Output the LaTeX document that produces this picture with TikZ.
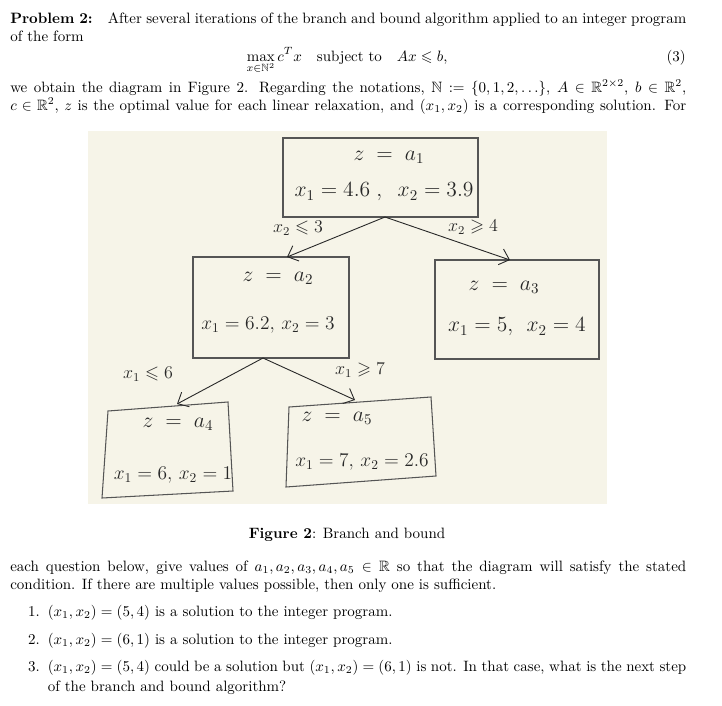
\documentclass[tikz,border=0pt]{standalone}
\usepackage{amsmath,amssymb}
\usetikzlibrary{arrows.meta,fit}
\definecolor{paper}{RGB}{246,244,232}
\definecolor{boxline}{RGB}{85,85,85}
\definecolor{ink}{RGB}{40,40,40}
\newcommand{\smallhand}[1]{\scalebox{0.9}{#1}}
\begin{document}
\begin{tikzpicture}[x=0.6667pt,y=-0.6667pt,
  txtline/.style={anchor=base west, inner sep=0pt, font=\normalsize},
  hand/.style={inner sep=0pt, text=ink, font=\fontsize{14.4}{17}\selectfont},
  handz/.style={inner sep=0pt, text=ink, font=\fontsize{14.4}{17}\selectfont},
  handlabel/.style={inner sep=0pt, text=ink, font=\fontsize{12}{15}\selectfont},
  boxrect/.style={draw=boxline, line width=0.7pt, inner sep=0pt},
  boxpoly/.style={draw=boxline, line width=0.7pt},
  branch/.style={draw=ink, line width=0.6pt, -{Straight Barb[length=6pt,width=11pt]}},
]
\useasboundingbox[fill=white] (0,0) rectangle (722,705);

% ---- header text ----
\node[txtline] (l1) at (10,23) {\makebox[450.7pt][s]{\textbf{Problem 2:}\quad After several iterations of the branch and bound algorithm applied to an integer program}};
\node[txtline] (l2) at (10,41) {of the form};
\node[anchor=base, inner sep=0pt] (eq) at (347,61) {$\displaystyle\max_{x\in\mathbb{N}^2} c^T x \quad \text{subject to} \quad Ax \leqslant b,$};
\node[anchor=base east, inner sep=0pt] (eqn) at (686,61) {(3)};
\node[txtline] (l3) at (10,92) {\makebox[450.7pt][s]{we obtain the diagram in Figure 2. Regarding the notations, $\mathbb{N} := \{0,1,2,\ldots\}$, $A\in\mathbb{R}^{2\times 2}$, $b\in\mathbb{R}^2$,}};
\node[txtline] (l4) at (10,110) {\makebox[450.7pt][s]{$c\in\mathbb{R}^2$, $z$ is the optimal value for each linear relaxation, and $(x_1,x_2)$ is a corresponding solution. For}};

% ---- diagram ----
\fill[paper] (88,131) rectangle (607,504);

\node (n1) [boxrect, fit={(283,138) (478,217)}] {};
\node (n2) [boxrect, fit={(193,257) (349,358)}] {};
\node (n3) [boxrect, fit={(435,260) (599,359)}] {};

\coordinate (p4a) at (108,411);
\coordinate (p4b) at (228,402);
\coordinate (p4c) at (233,491);
\coordinate (p4d) at (102,498);
\draw[boxpoly] (p4a) -- (p4b) -- (p4c) -- (p4d) -- cycle;
\coordinate (p5a) at (289,407);
\coordinate (p5b) at (431,397);
\coordinate (p5c) at (436,476);
\coordinate (p5d) at (286,487);
\draw[boxpoly] (p5a) -- (p5b) -- (p5c) -- (p5d) -- cycle;

\node[handz] (z1) at (389,157) {$z \;=\; a_1$};
\node[hand] (x1) at (384,192) {$x_1 = 4.6\;,\;\; x_2 = 3.9$};
\node[handz] (z2) at (278,278) {$z \;=\; a_2$};
\node[hand] (x2) at (268,325) {\smallhand{$x_1 = 6.2,\, x_2 = 3$}};
\node[handz] (z3) at (504,287) {$z \;=\; a_3$};
\node[hand] (x3) at (517,327) {$x_1 = 5,\;\, x_2 = 4$};
\node[handz] (z4) at (178,424) {$z \;=\; a_4$};
\node[hand] (x4) at (173,475) {\smallhand{$x_1 = 6,\, x_2 = 1$}};
\node[handz] (z5) at (337,418) {$z \;=\; a_5$};
\node[hand] (x5) at (362,462) {\smallhand{$x_1 = 7,\, x_2 = 2.6$}};

\node[handlabel] (lb1) at (298,228) {$x_2 \leqslant 3$};
\node[handlabel] (lb2) at (473,227) {$x_2 \geqslant 4$};
\node[handlabel] (lb3) at (148,374) {$x_1 \leqslant 6$};
\node[handlabel] (lb4) at (360,370) {$x_1 \geqslant 7$};

\coordinate (s1) at (385,217);
\coordinate (t2) at (287,257);
\coordinate (t3) at (510,260);
\coordinate (s2) at (263,358);
\coordinate (t4) at (177,404);
\coordinate (t5) at (355,400);
\draw[branch] (s1) -- (t2);
\draw[branch] (s1) -- (t3);
\draw[branch] (s2) -- (t4);
\draw[branch] (s2) -- (t5);

% ---- caption and questions ----
\node[anchor=base, inner sep=0pt] (cap) at (347,538) {\textbf{Figure 2}: Branch and bound};
\node[txtline] (l5) at (10,571) {\makebox[450.7pt][s]{each question below, give values of $a_1,a_2,a_3,a_4,a_5\in\mathbb{R}$ so that the diagram will satisfy the stated}};
\node[txtline] (l6) at (10,589) {condition. If there are multiple values possible, then only one is sufficient.};

\node[anchor=base east, inner sep=0pt] (i1n) at (40,616) {1.};
\node[txtline] (i1) at (47.5,616) {$(x_1,x_2)=(5,4)$ is a solution to the integer program.};
\node[anchor=base east, inner sep=0pt] (i2n) at (40,644) {2.};
\node[txtline] (i2) at (47.5,644) {$(x_1,x_2)=(6,1)$ is a solution to the integer program.};
\node[anchor=base east, inner sep=0pt] (i3n) at (40,671) {3.};
\node[txtline] (i3) at (47.5,671) {\makebox[425.7pt][s]{$(x_1,x_2)=(5,4)$ could be a solution but $(x_1,x_2)=(6,1)$ is not. In that case, what is the next step}};
\node[txtline] (i3b) at (47.5,691) {of the branch and bound algorithm?};
\end{tikzpicture}
\end{document}
